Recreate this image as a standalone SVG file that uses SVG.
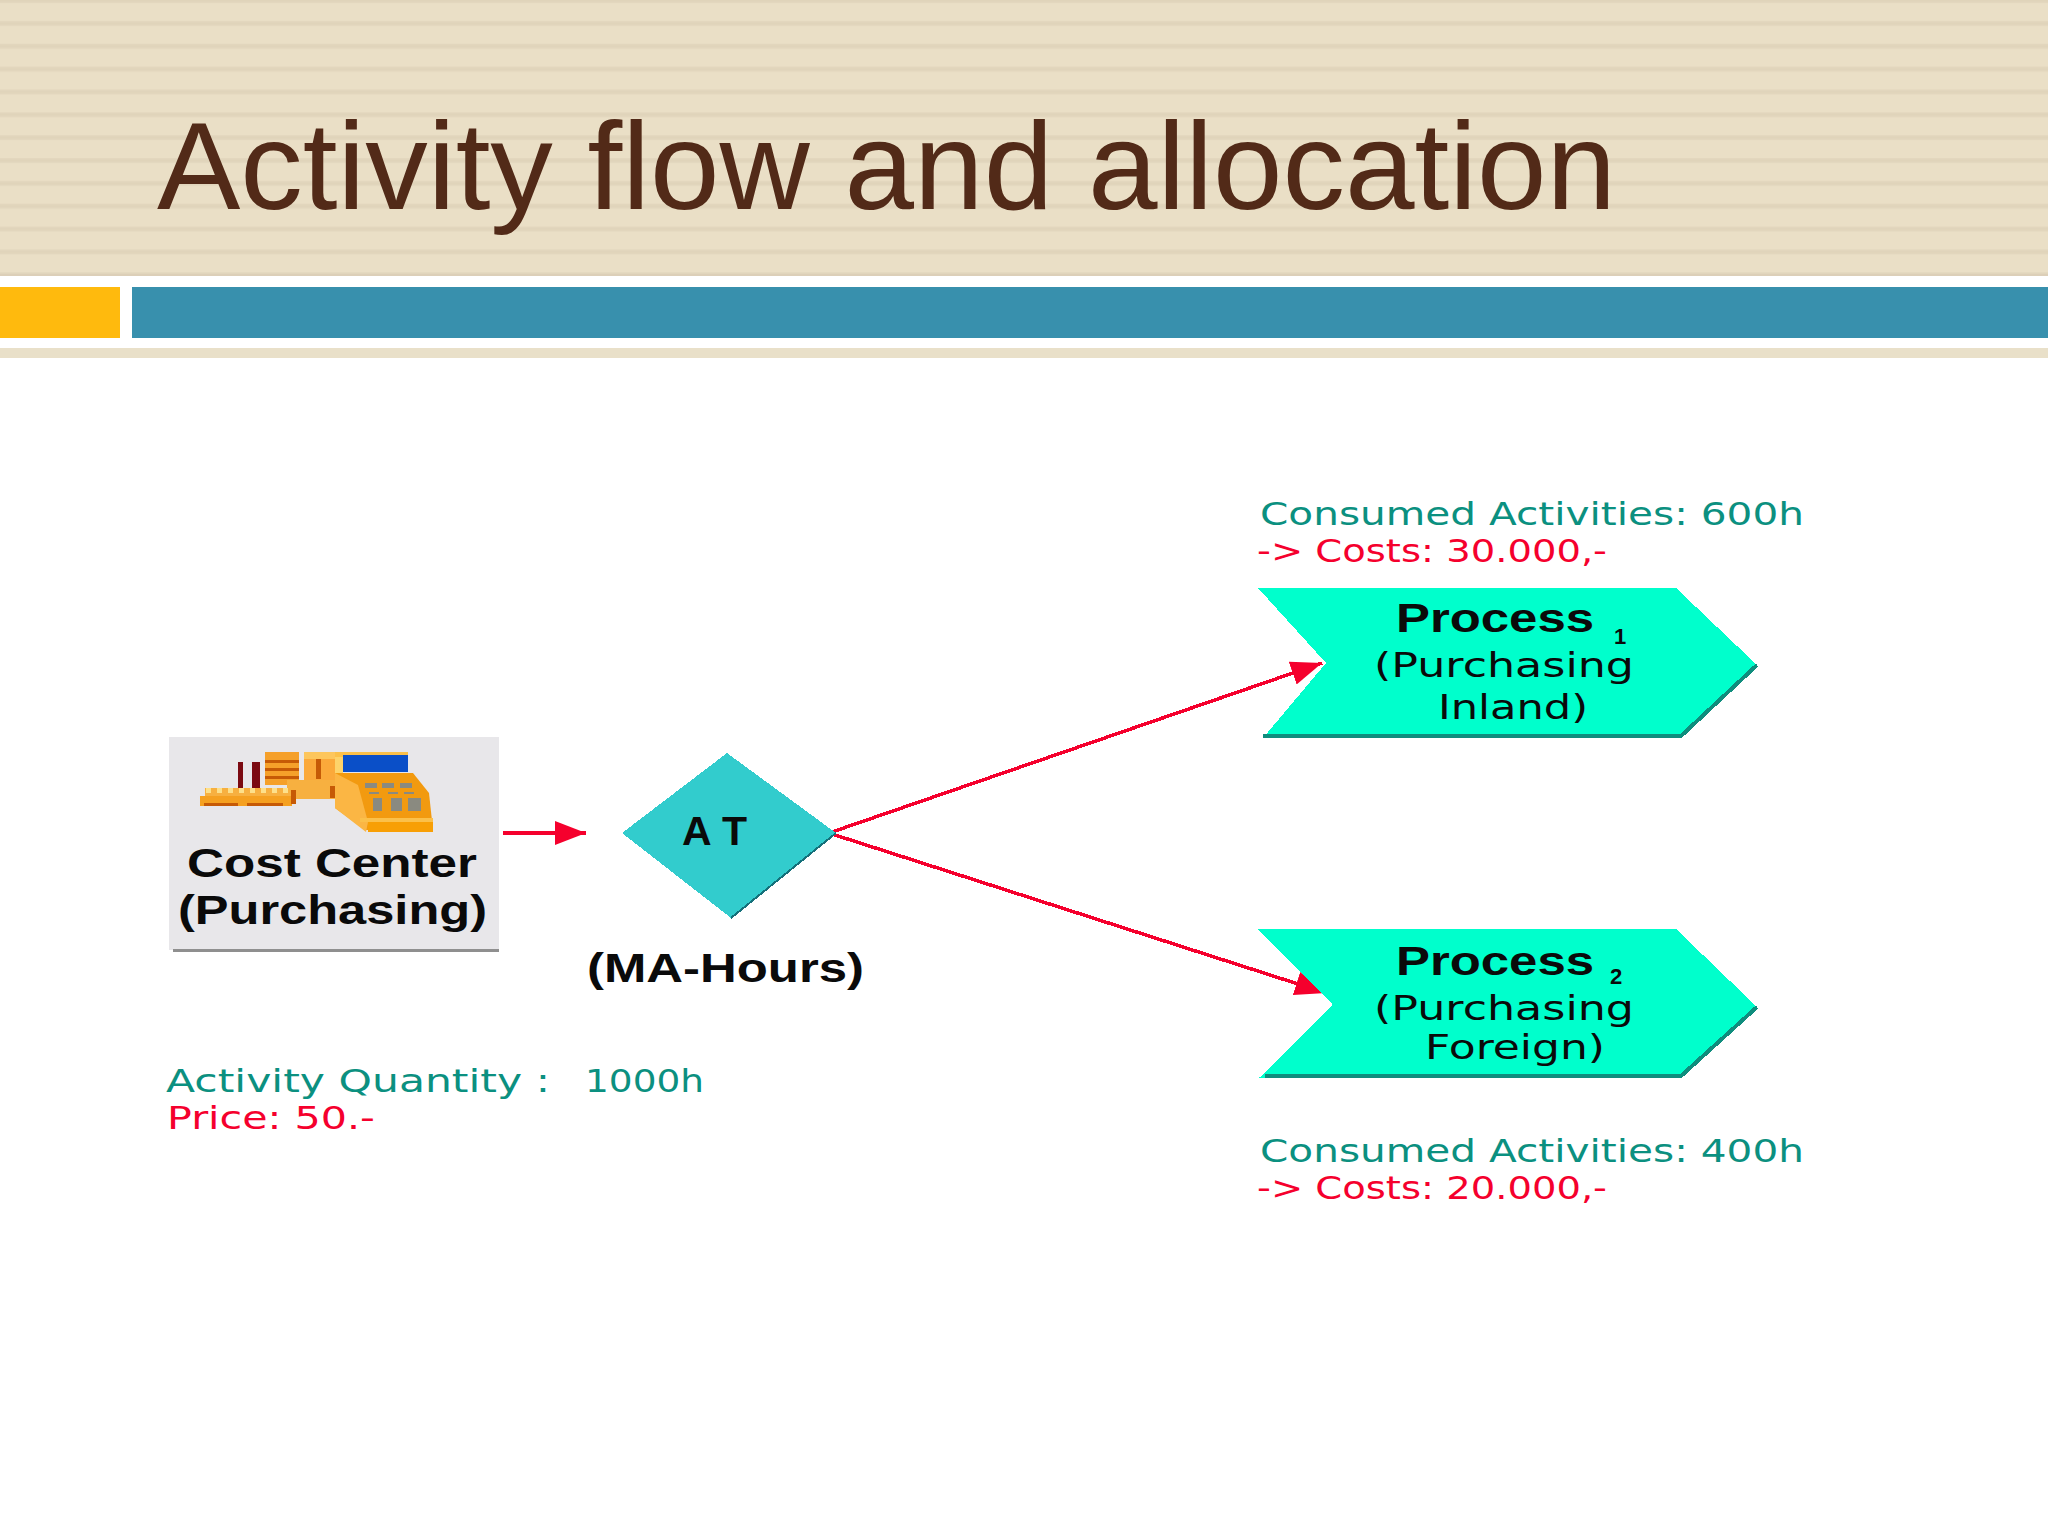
<svg xmlns="http://www.w3.org/2000/svg" width="2048" height="1536" viewBox="0 0 2048 1536">
<defs>
<marker id="ah" markerUnits="userSpaceOnUse" markerWidth="32" markerHeight="26" refX="31" refY="13" orient="auto"><path d="M0 1 L31 13 L0 25 Z" fill="#f5002d"/></marker>
<pattern id="stripes" patternUnits="userSpaceOnUse" width="2048" height="22.85" y="-2">
<rect width="2048" height="22.85" fill="#eadfc6"/>
<rect y="0" width="2048" height="5" fill="#e3d7be"/><rect y="1.5" width="2048" height="2" fill="#e0d4ba"/>
</pattern>
</defs>
<style>
.t{font-family:"Liberation Sans",Arial,sans-serif}
.teal{fill:#0b9080;font-size:32px;font-family:"DejaVu Sans",sans-serif}
.red{fill:#f5002d;font-size:32px;font-family:"DejaVu Sans",sans-serif}
.b{fill:#0a0a0a;font-weight:700;font-size:41px;font-family:"Liberation Sans",Arial,sans-serif}
.n{fill:#0a0a0a;font-size:33px;font-family:"DejaVu Sans",sans-serif}
.c{stroke:#f5002d;stroke-width:3.5;fill:none;marker-end:url(#ah);shape-rendering:crispEdges}
.edge{fill:none;stroke:#0f8d7d;stroke-width:4}
</style>
<rect width="2048" height="1536" fill="#fff"/>
<g id="header">
<rect width="2048" height="275" fill="url(#stripes)"/>
<rect y="274" width="2048" height="2" fill="#dccfb8"/>
<rect y="287" width="120" height="51" fill="#ffba0d"/>
<rect x="132" y="287" width="1916" height="51" fill="#3890ad"/>
<rect y="348" width="2048" height="10" fill="#e9e0c9"/>
<text id="title" class="t" x="157" y="209" font-size="124" fill="#522a18" textLength="1459" lengthAdjust="spacingAndGlyphs">Activity flow and allocation</text>
</g>
<g id="connectors">
<path class="c" d="M503 833 H586"/>
<path class="c" d="M832 832 L1322 663"/>
<path class="c" d="M832 834 L1326 993"/>
</g>
<g id="cost-center">
<rect x="169" y="737" width="330" height="213" fill="#e8e7ea"/>
<rect x="173" y="949" width="326" height="3" fill="#8f8f8f"/>
<g shape-rendering="crispEdges">
<rect x="238" y="762" width="5" height="27" fill="#7b0a12"/><rect x="252" y="762" width="8" height="27" fill="#7b0a12"/>
<rect x="265" y="752" width="34" height="33" fill="#f5a02a"/><rect x="265" y="760" width="34" height="3" fill="#c65a06"/><rect x="265" y="768" width="34" height="3" fill="#c65a06"/><rect x="265" y="776" width="34" height="3" fill="#c65a06"/>
<rect x="304" y="752" width="34" height="29" fill="#fba93a"/><rect x="304" y="752" width="34" height="7" fill="#fdc65c"/><rect x="316" y="759" width="5" height="20" fill="#c65a06"/>
<rect x="287" y="780" width="50" height="19" fill="#f7b040"/><rect x="330" y="786" width="6" height="12" fill="#c65a06"/>
<rect x="200" y="796" width="92" height="10" fill="#f5a020"/><rect x="205" y="788" width="88" height="8" fill="#f7b040"/><rect x="204" y="803" width="34" height="3" fill="#c65a06"/><rect x="247" y="803" width="36" height="3" fill="#c65a06"/><rect x="291" y="790" width="5" height="14" fill="#c65a06"/>
<path d="M206 790 H292" stroke="#fde08a" stroke-width="5" stroke-dasharray="5 6" fill="none"/>
<rect x="335" y="752" width="73" height="5" fill="#fbc04a"/><rect x="335" y="757" width="8" height="16" fill="#fdd36a"/><rect x="343" y="755" width="65" height="17" fill="#0a4fc8"/>
</g>
<path d="M335 773 H413 L429 793 L433 830 H365 L335 808 Z" fill="#f29a10"/>
<path d="M335 773 L358 785 L368 822 L366 832 L335 808 Z" fill="#fbb644"/>
<rect x="368" y="822" width="65" height="10" fill="#f89f05"/><rect x="360" y="818" width="73" height="4" fill="#fbc04a"/>
<g fill="#8a8a80" shape-rendering="crispEdges">
<rect x="365" y="783" width="12" height="5"/><rect x="382" y="783" width="12" height="5"/><rect x="400" y="783" width="12" height="5"/>
<rect x="369" y="792" width="10" height="2"/><rect x="388" y="792" width="10" height="2"/><rect x="404" y="792" width="10" height="2"/>
<rect x="373" y="798" width="9" height="13"/><rect x="391" y="798" width="11" height="13"/><rect x="408" y="798" width="13" height="13"/>
</g>
<text class="b" x="187" y="877" textLength="290" lengthAdjust="spacingAndGlyphs">Cost Center</text>
<text class="b" x="178" y="924" textLength="309" lengthAdjust="spacingAndGlyphs">(Purchasing)</text>
</g>
<g id="at">
<path d="M622 833 L727 753 L836 833 L731 918 Z" fill="#32cccd" shape-rendering="crispEdges"/>
<path d="M836 833 L731 918" stroke="#15707a" stroke-width="2" fill="none" shape-rendering="crispEdges"/>
<text class="b" x="682" y="845" textLength="65" lengthAdjust="spacing">AT</text>
</g>
<text id="ma-hours" class="b" x="587" y="982" textLength="277" lengthAdjust="spacingAndGlyphs">(MA-Hours)</text>
<g id="activity-note">
<text class="teal" x="166" y="1092" textLength="384" lengthAdjust="spacingAndGlyphs">Activity Quantity :</text>
<text class="teal" x="585" y="1092" textLength="119" lengthAdjust="spacingAndGlyphs">1000h</text>
<text class="red" x="167" y="1129" textLength="208" lengthAdjust="spacingAndGlyphs">Price: 50.-</text>
</g>
<g id="note-1">
<text class="teal" x="1260" y="525" textLength="544" lengthAdjust="spacingAndGlyphs">Consumed Activities: 600h</text>
<text class="red" x="1257" y="562" textLength="350" lengthAdjust="spacingAndGlyphs">-&gt; Costs: 30.000,-</text>
</g>
<g id="process-1">
<path d="M1258 588 H1676 L1757 665 L1681 738 H1263 L1326 663 Z" fill="#00ffcc" shape-rendering="crispEdges"/>
<path class="edge" d="M1757 665 L1681 736 H1263" shape-rendering="crispEdges"/>
<text class="b" x="1396" y="632" textLength="198" lengthAdjust="spacingAndGlyphs">Process</text>
<text x="1614" y="644" font-family="Liberation Sans,sans-serif" font-weight="700" font-size="22" fill="#0a0a0a">1</text>
<text class="n" x="1374" y="677" textLength="260" lengthAdjust="spacingAndGlyphs">(Purchasing</text>
<text class="n" x="1438" y="719" textLength="150" lengthAdjust="spacingAndGlyphs">Inland)</text>
</g>
<g id="process-2">
<path d="M1258 929 H1676 L1757 1007 L1681 1078 H1259 L1333 1005 Z" fill="#00ffcc" shape-rendering="crispEdges"/>
<path class="edge" d="M1757 1007 L1681 1076 H1265" shape-rendering="crispEdges"/>
<text class="b" x="1396" y="975" textLength="198" lengthAdjust="spacingAndGlyphs">Process</text>
<text x="1610" y="984" font-family="Liberation Sans,sans-serif" font-weight="700" font-size="22" fill="#0a0a0a">2</text>
<text class="n" x="1374" y="1020" textLength="260" lengthAdjust="spacingAndGlyphs">(Purchasing</text>
<text class="n" x="1425" y="1059" textLength="180" lengthAdjust="spacingAndGlyphs">Foreign)</text>
</g>
<g id="note-2">
<text class="teal" x="1260" y="1162" textLength="544" lengthAdjust="spacingAndGlyphs">Consumed Activities: 400h</text>
<text class="red" x="1257" y="1199" textLength="350" lengthAdjust="spacingAndGlyphs">-&gt; Costs: 20.000,-</text>
</g>
</svg>
